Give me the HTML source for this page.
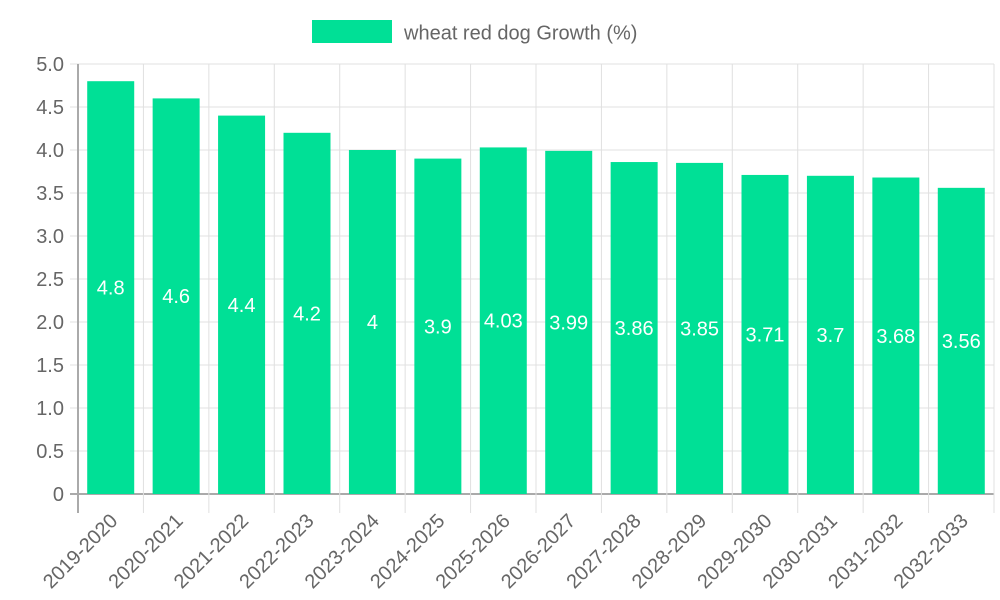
<!DOCTYPE html>
<html><head><meta charset="utf-8"><style>
html,body{margin:0;padding:0;background:#fff;}
svg{display:block;font-family:"Liberation Sans",sans-serif;}
</style></head><body>
<svg id="chart" width="1000" height="600">
<g>
<rect x="312" y="20" width="80" height="23" fill="#00e096"/>
<text x="404" y="39.5" font-size="20" fill="#666">wheat red dog Growth (%)</text>
</g>
<g id="grid"></g><g id="bars"></g><g id="axes"></g>
</svg>
<script>
const categories=["2019-2020","2020-2021","2021-2022","2022-2023","2023-2024","2024-2025","2025-2026","2026-2027","2027-2028","2028-2029","2029-2030","2030-2031","2031-2032","2032-2033"];
const values=[4.8,4.6,4.4,4.2,4,3.9,4.03,3.99,3.86,3.85,3.71,3.7,3.68,3.56];
const valueLabels=["4.8","4.6","4.4","4.2","4","3.9","4.03","3.99","3.86","3.85","3.71","3.7","3.68","3.56"];
const yTicks=[0,0.5,1,1.5,2,2.5,3,3.5,4,4.5,5];
const yTickLabels=["0","0.5","1.0","1.5","2.0","2.5","3.0","3.5","4.0","4.5","5.0"];
const NS="http://www.w3.org/2000/svg";
const L=78,R=994,T=64,B=494,yMax=5;
const band=(R-L)/categories.length;
const y=v=>B-(v/yMax)*(B-T);
const x=i=>L+band*i;
function mk(tag,attrs,parent){const e=document.createElementNS(NS,tag);for(const k in attrs)e.setAttribute(k,attrs[k]);parent.appendChild(e);return e;}
const grid=document.getElementById('grid'),bars=document.getElementById('bars'),axes=document.getElementById('axes');
yTicks.forEach((t,i)=>{
  const gl=mk('line',{x1:L-8,x2:R,y1:y(t),y2:y(t),stroke:i===0?'#aaa':'#e0e0e0','stroke-width':i===0?2:1},grid);
  
  
  const tx=mk('text',{x:L-14,y:y(t)+7,'text-anchor':'end','font-size':20,fill:'#666'},axes);
  tx.textContent=yTickLabels[i];
  
  
});
for(let i=0;i<=categories.length;i++){
  const gl=mk('line',{x1:x(i),x2:x(i),y1:T,y2:B+19,stroke:i===0?'#aaa':'#e0e0e0','stroke-width':i===0?2:1},grid);
  
  
}
const bw=47;
categories.forEach((c,i)=>{
  const cx=x(i)+band/2;
  const r=mk('rect',{x:cx-bw/2,y:y(values[i]),width:bw,height:B-y(values[i]),fill:'#00e096'},bars);
  
  
  const vl=mk('text',{x:cx,y:(y(values[i])+B)/2+7,'text-anchor':'middle','font-size':20,fill:'#fff'},bars);
  vl.textContent=valueLabels[i];
  
  
  const xl=mk('text',{x:0,y:0,'text-anchor':'end','font-size':20,fill:'#666',transform:`translate(${cx+8},${522}) rotate(-45)`},axes);
  xl.textContent=c;
  
  
});
</script>
</body></html>
